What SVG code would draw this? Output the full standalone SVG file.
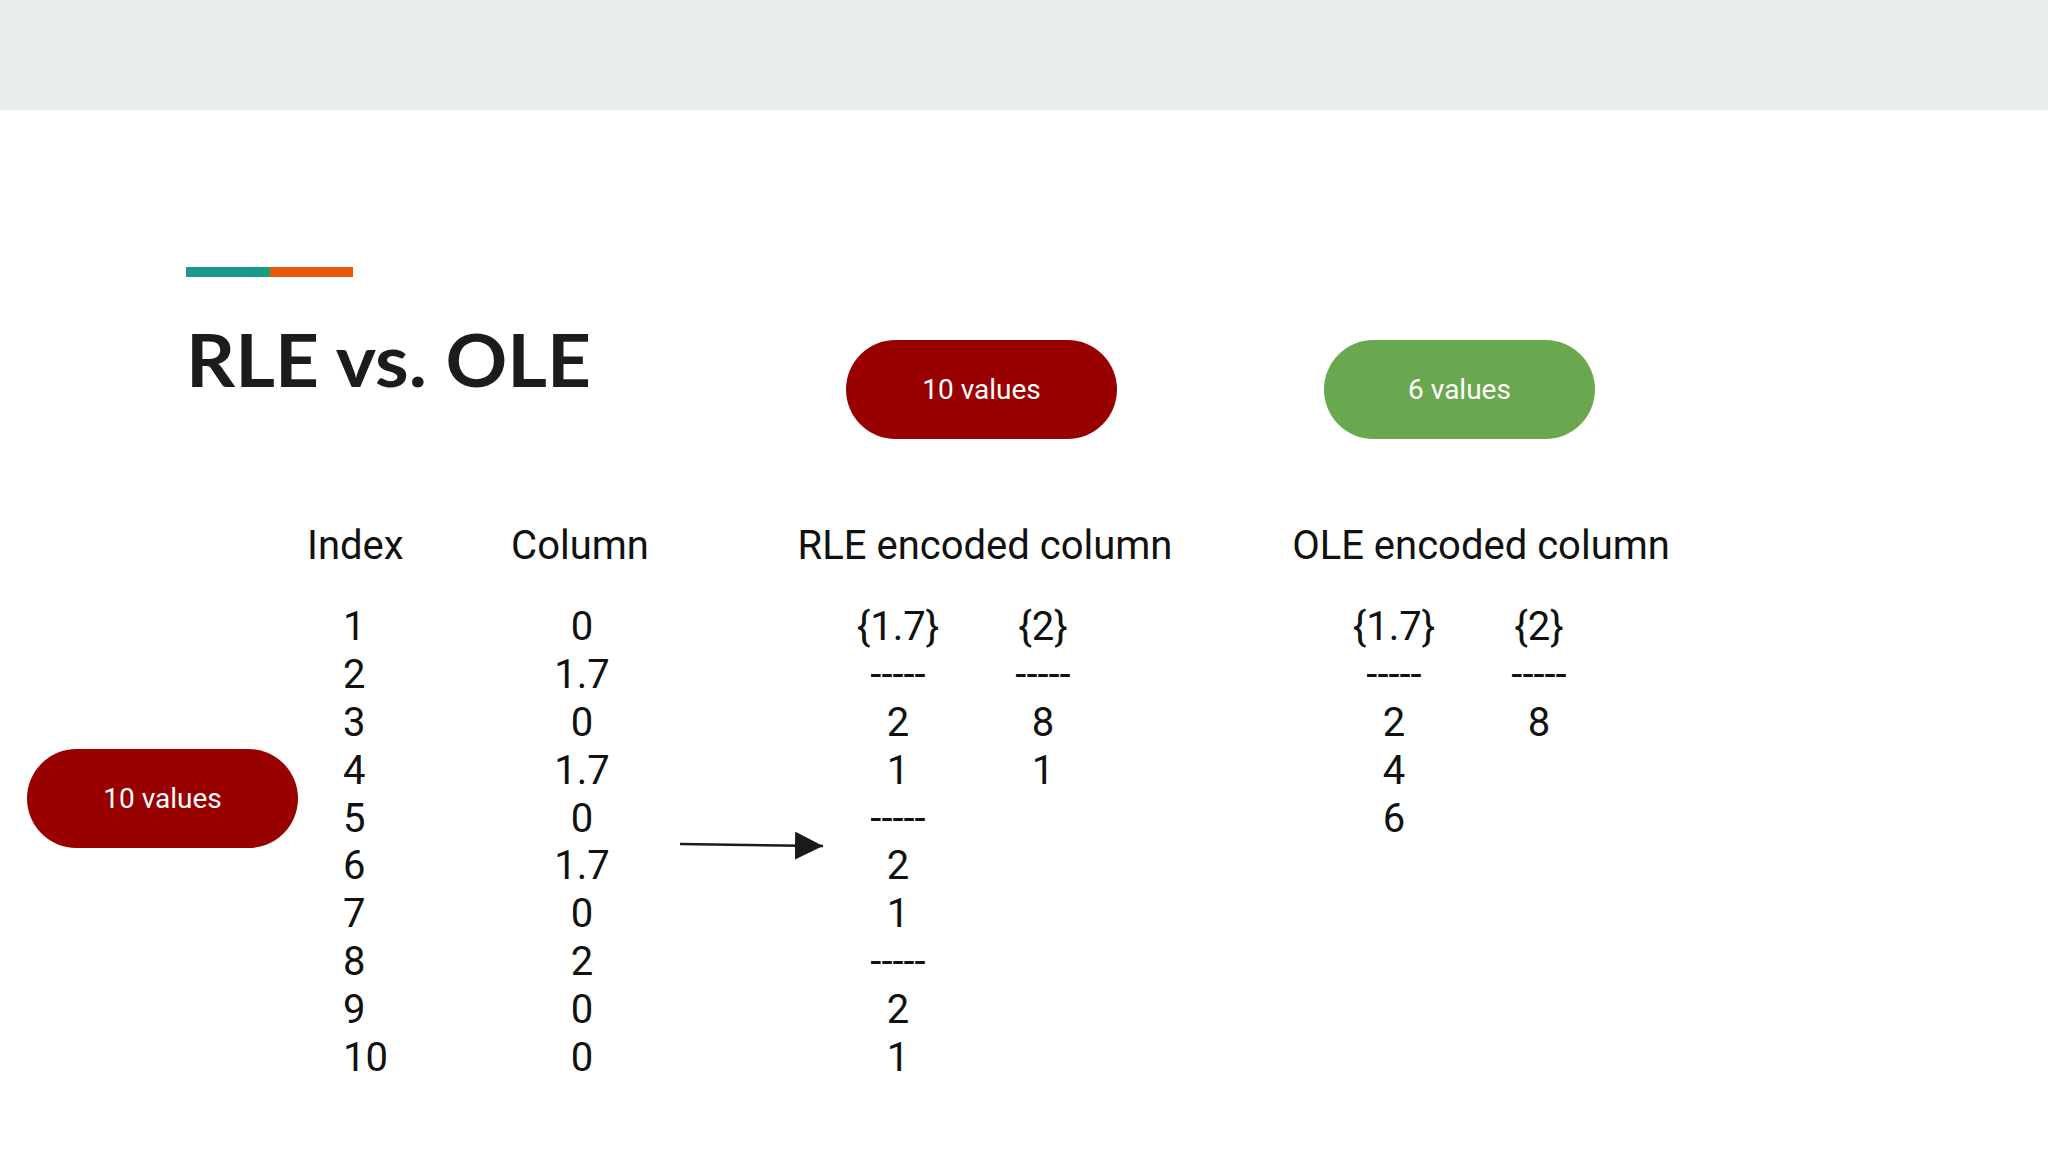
<svg xmlns="http://www.w3.org/2000/svg" width="2048" height="1152" viewBox="0 0 2048 1152">
  <defs>
    <style>
      .t { font-family: Roboto, "Liberation Sans", sans-serif; font-size: 40px; fill: #111111; }
      .c { text-anchor: middle; }
      .pill-text { font-family: Roboto, "Liberation Sans", sans-serif; font-size: 28px; fill: #ffffff; text-anchor: middle; }
      .title { font-family: Lato, "Liberation Sans", sans-serif; font-weight: 700; font-size: 72px; fill: #1c1c1c; }
      .red { fill: #990000; }
      .green { fill: #6aa84f; }
    </style>
    <marker id="arrowhead" markerUnits="userSpaceOnUse" markerWidth="30" markerHeight="30" refX="28" refY="14" orient="auto">
      <path d="M0,0 L28,14 L0,28 Z" fill="#1a1a1a"/>
    </marker>
  </defs>

  <rect x="0" y="0" width="2048" height="1152" fill="#ffffff"/>
  <rect x="0" y="0" width="2048" height="110" fill="#e9eeec"/>

  <g id="header">
    <rect x="186" y="267" width="84" height="10" fill="#1b9a8a"/>
    <rect x="270" y="267" width="83" height="10" fill="#e85a0a"/>
    <text class="title" x="186" y="387" textLength="405" lengthAdjust="spacingAndGlyphs">RLE vs. OLE</text>
  </g>

  <g id="pill-rle">
    <rect class="red" x="846" y="340" width="271" height="99" rx="49.5"/>
    <text class="pill-text" x="981.5" y="399">10 values</text>
  </g>
  <g id="pill-ole">
    <rect class="green" x="1324" y="340" width="271" height="99" rx="49.5"/>
    <text class="pill-text" x="1459.5" y="399">6 values</text>
  </g>
  <g id="pill-input">
    <rect class="red" x="27" y="749" width="271" height="99" rx="49.5"/>
    <text class="pill-text" x="162.5" y="808">10 values</text>
  </g>

  <g id="index-column">
    <text class="t" x="307" y="559">Index</text>
    <text class="t" x="343" y="640">1</text>
    <text class="t" x="343" y="688">2</text>
    <text class="t" x="343" y="736">3</text>
    <text class="t" x="343" y="784">4</text>
    <text class="t" x="343" y="832">5</text>
    <text class="t" x="343" y="879">6</text>
    <text class="t" x="343" y="927">7</text>
    <text class="t" x="343" y="975">8</text>
    <text class="t" x="343" y="1023">9</text>
    <text class="t" x="343" y="1071">10</text>
  </g>

  <g id="value-column">
    <text class="t c" x="580" y="559">Column</text>
    <text class="t c" x="582" y="640">0</text>
    <text class="t c" x="582" y="688">1.7</text>
    <text class="t c" x="582" y="736">0</text>
    <text class="t c" x="582" y="784">1.7</text>
    <text class="t c" x="582" y="832">0</text>
    <text class="t c" x="582" y="879">1.7</text>
    <text class="t c" x="582" y="927">0</text>
    <text class="t c" x="582" y="975">2</text>
    <text class="t c" x="582" y="1023">0</text>
    <text class="t c" x="582" y="1071">0</text>
  </g>

  <g id="rle-column">
    <text class="t c" x="985" y="559">RLE encoded column</text>
    <text class="t c" x="898" y="640">{1.7}</text>
    <text class="t c" x="898" y="688">-----</text>
    <text class="t c" x="898" y="736">2</text>
    <text class="t c" x="898" y="784">1</text>
    <text class="t c" x="898" y="832">-----</text>
    <text class="t c" x="898" y="879">2</text>
    <text class="t c" x="898" y="927">1</text>
    <text class="t c" x="898" y="975">-----</text>
    <text class="t c" x="898" y="1023">2</text>
    <text class="t c" x="898" y="1071">1</text>
    <text class="t c" x="1043" y="640">{2}</text>
    <text class="t c" x="1043" y="688">-----</text>
    <text class="t c" x="1043" y="736">8</text>
    <text class="t c" x="1043" y="784">1</text>
  </g>

  <g id="ole-column">
    <text class="t c" x="1481" y="559">OLE encoded column</text>
    <text class="t c" x="1394" y="640">{1.7}</text>
    <text class="t c" x="1394" y="688">-----</text>
    <text class="t c" x="1394" y="736">2</text>
    <text class="t c" x="1394" y="784">4</text>
    <text class="t c" x="1394" y="832">6</text>
    <text class="t c" x="1539" y="640">{2}</text>
    <text class="t c" x="1539" y="688">-----</text>
    <text class="t c" x="1539" y="736">8</text>
  </g>

  <g id="connectors">
    <line x1="680" y1="844" x2="823" y2="846" stroke="#1a1a1a" stroke-width="2.5" marker-end="url(#arrowhead)"/>
  </g>
</svg>
